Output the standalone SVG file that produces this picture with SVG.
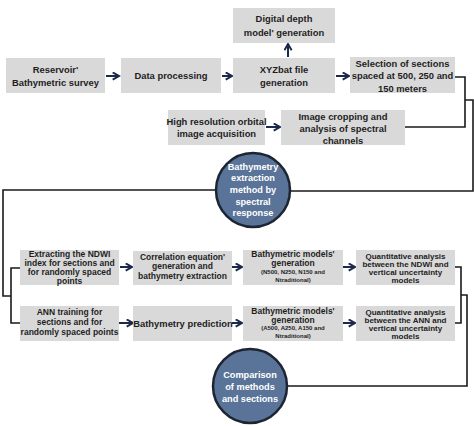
<svg xmlns="http://www.w3.org/2000/svg" width="474" height="426" viewBox="0 0 474 426">
<defs>
<marker id="ah" viewBox="0 0 10 10" refX="8" refY="5" markerWidth="4.5" markerHeight="4.5" markerUnits="strokeWidth" orient="auto">
<path d="M1,1 L8,5 L1,9" fill="none" stroke="#1b2a4a" stroke-width="2.2" stroke-linejoin="miter"/>
</marker>
</defs>
<style>
.box{fill:#d9d9d9;}
.t{font-family:"Liberation Sans",Arial,sans-serif;font-weight:bold;font-size:9.4px;fill:#1e1e1e;text-anchor:middle;}
.s{font-size:8.5px;}
.q{font-size:8px;}
.xs{font-size:6px;}
.c{fill:#5a7398;stroke:#1d2533;stroke-width:2.5;}
.ct{font-family:"Liberation Sans",Arial,sans-serif;font-weight:bold;font-size:9.2px;fill:#ffffff;text-anchor:middle;}
.ln{fill:none;stroke:#1a1a1a;stroke-width:1.6;}
.ar{fill:none;stroke:#1b2a4a;stroke-width:2;marker-end:url(#ah);}
</style>
<rect width="474" height="426" fill="#ffffff"/>
<g id="connectors">
<path class="ln" d="M455,77 H465 V127 H405"/>
<path class="ln" d="M465,100 H473 V191 H290"/>
<path class="ln" d="M216,190 H3 V296 H11"/>
<path class="ln" d="M20,268 H11 V323 H20"/>
<path class="ln" d="M455,267 H461 V323 H455"/>
<path class="ln" d="M461,295 H467 V386 H287"/>
<line class="ar" x1="106" y1="76" x2="119" y2="76"/>
<line class="ar" x1="222" y1="76" x2="232" y2="76"/>
<line class="ar" x1="336" y1="76" x2="349" y2="76"/>
<line class="ar" x1="288" y1="57" x2="288" y2="44"/>
<line class="ar" x1="266" y1="127" x2="280" y2="127"/>
<line class="ar" x1="120" y1="267" x2="132" y2="267"/>
<line class="ar" x1="232" y1="267" x2="242" y2="267"/>
<line class="ar" x1="343" y1="267" x2="355" y2="267"/>
<line class="ar" x1="119" y1="323" x2="133" y2="323"/>
<line class="ar" x1="230" y1="323" x2="242" y2="323"/>
<line class="ar" x1="343" y1="323" x2="355" y2="323"/>
</g>
<g id="n-reservoir">
<rect class="box" x="6" y="58" width="99" height="35"/>
<text class="t" x="55.5" y="72.5">Reservoir'</text>
<text class="t" x="55.5" y="85.5">Bathymetric survey</text>
</g>
<g id="n-dataproc">
<rect class="box" x="121" y="58" width="100" height="35"/>
<text class="t" x="171" y="79">Data processing</text>
</g>
<g id="n-digital">
<rect class="box" x="233" y="8" width="102" height="35"/>
<text class="t" x="284" y="22">Digital depth</text>
<text class="t" x="284" y="35.5">model' generation</text>
</g>
<g id="n-xyz">
<rect class="box" x="233" y="58" width="102" height="35"/>
<text class="t" x="284" y="72.5">XYZbat file</text>
<text class="t" x="284" y="85.5">generation</text>
</g>
<g id="n-selection">
<rect class="box" x="350" y="57" width="105" height="36"/>
<text class="t" x="402.5" y="66.5">Selection of sections</text>
<text class="t" x="402.5" y="79">spaced at 500, 250 and</text>
<text class="t" x="402.5" y="91.5">150 meters</text>
</g>
<g id="n-highres">
<rect class="box" x="168" y="110" width="97" height="35"/>
<text class="t" x="216.5" y="124.5">High resolution orbital</text>
<text class="t" x="216.5" y="136.5">image acquisition</text>
</g>
<g id="n-cropping">
<rect class="box" x="281" y="110" width="124" height="35"/>
<text class="t" x="343" y="119.5">Image cropping and</text>
<text class="t" x="343" y="131.5">analysis of spectral</text>
<text class="t" x="343" y="143.5">channels</text>
</g>
<g id="n-method">
<circle class="c" cx="253" cy="190" r="37"/>
<text class="ct" x="253" y="169.5">Bathymetry</text>
<text class="ct" x="253" y="181.3">extraction</text>
<text class="ct" x="253" y="193">method by</text>
<text class="ct" x="253" y="204.7">spectral</text>
<text class="ct" x="253" y="216.4">response</text>
</g>
<g id="n-ndwi">
<rect class="box" x="20" y="250" width="99" height="35"/>
<text class="t s" x="69.5" y="257">Extracting the NDWI</text>
<text class="t s" x="69.5" y="266">index for sections and</text>
<text class="t s" x="69.5" y="275">for randomly spaced</text>
<text class="t s" x="69.5" y="284">points</text>
</g>
<g id="n-correlation">
<rect class="box" x="133" y="251" width="99" height="34"/>
<text class="t s" x="182.5" y="260">Correlation equation'</text>
<text class="t s" x="182.5" y="269.3">generation and</text>
<text class="t s" x="182.5" y="278.6">bathymetry extraction</text>
</g>
<g id="n-models-n">
<rect class="box" x="243" y="250" width="100" height="35"/>
<text class="t s" x="293" y="257">Bathymetric models'</text>
<text class="t s" x="293" y="266">generation</text>
<text class="t xs" x="293" y="274">(N500, N250, N150 and</text>
<text class="t xs" x="293" y="282">Ntraditional)</text>
</g>
<g id="n-quant-ndwi">
<rect class="box" x="356" y="250" width="99" height="35"/>
<text class="t q" x="405.5" y="258.5">Quantitative analysis</text>
<text class="t q" x="405.5" y="266.5">between the NDWI and</text>
<text class="t q" x="405.5" y="274.5">vertical uncertainty</text>
<text class="t q" x="405.5" y="282.5">models</text>
</g>
<g id="n-ann">
<rect class="box" x="20" y="306" width="99" height="35"/>
<text class="t s" x="69.5" y="315">ANN training for</text>
<text class="t s" x="69.5" y="325">sections and for</text>
<text class="t s" x="69.5" y="335">randomly spaced points</text>
</g>
<g id="n-prediction">
<rect class="box" x="133" y="306" width="99" height="35"/>
<text class="t" x="183" y="326.5">Bathymetry prediction</text>
</g>
<g id="n-models-a">
<rect class="box" x="243" y="306" width="100" height="35"/>
<text class="t s" x="293" y="314">Bathymetric models'</text>
<text class="t s" x="293" y="322.5">generation</text>
<text class="t xs" x="293" y="330">(A500, A250, A150 and</text>
<text class="t xs" x="293" y="338">Ntraditional)</text>
</g>
<g id="n-quant-ann">
<rect class="box" x="356" y="306" width="99" height="35"/>
<text class="t q" x="405.5" y="314.5">Quantitative analysis</text>
<text class="t q" x="405.5" y="322.5">between the ANN and</text>
<text class="t q" x="405.5" y="330.5">vertical uncertainty</text>
<text class="t q" x="405.5" y="338.5">models</text>
</g>
<g id="n-comparison">
<circle class="c" cx="250" cy="386" r="37"/>
<text class="ct" x="250" y="377.5">Comparison</text>
<text class="ct" x="250" y="390">of methods</text>
<text class="ct" x="250" y="402">and sections</text>
</g>
</svg>
